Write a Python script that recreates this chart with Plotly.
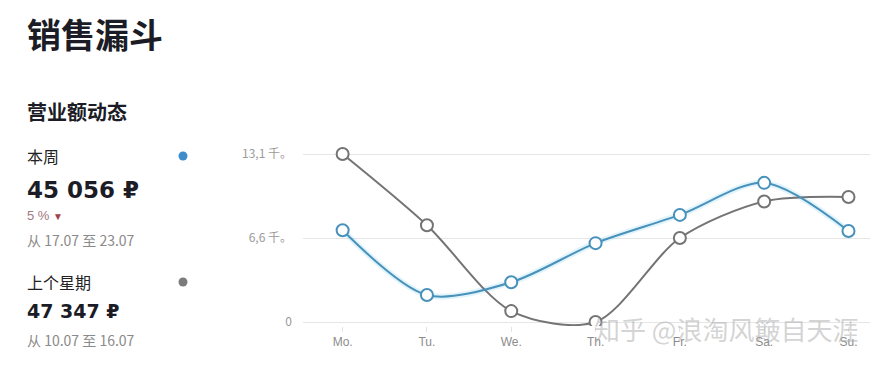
import plotly.graph_objects as go

# ---------------- data ----------------
days = ["Mo.", "Tu.", "We.", "Th.", "Fr.", "Sa.", "Su."]
this_week = [7150, 2100, 3100, 6150, 8350, 10850, 7100]
last_week = [13100, 7550, 850, 0, 6550, 9400, 9750]
y_tickvals = [0, 6550, 13100]
y_ticktext = ["0", "6,6 千。", "13,1 千。"]

title = "销售漏斗"
subtitle = "营业额动态"
this_label = "本周"
this_total = "45 056 ₽"
this_change = "5 %"
this_range = "从 17.07 至 23.07"
last_label = "上个星期"
last_total = "47 347 ₽"
last_range = "从 10.07 至 16.07"
watermark = "知乎 @浪淘风簸自天涯"

BLUE = "#4791bb"
GRAY = "#747474"
FONT = "Noto Sans CJK SC, Noto Sans, DejaVu Sans, sans-serif"
NUMFONT = "DejaVu Sans, Noto Sans, sans-serif"
LATIN = "Liberation Sans, Arial, Noto Sans CJK SC, sans-serif"

# ---------------- layout geometry (window pixel coords) ----------------
OFF = 8                     # browser body margin
WIN_W, WIN_H = 878, 366
PL, PR, PT, PB = 303, 878, 140, 326  # plot area in window pixels


def px(x):
    return (x - PL) / (PR - PL)


def py(y):
    return (PB - y) / (PB - PT)


fig = go.Figure()

# soft glow under the blue line
fig.add_trace(go.Scatter(
    x=days, y=this_week, mode="lines",
    line=dict(color="rgba(140,210,240,0.25)", width=6, shape="spline", smoothing=0.85),
    hoverinfo="skip", showlegend=False))

fig.add_trace(go.Scatter(
    x=days, y=last_week, mode="lines+markers", name=last_label,
    line=dict(color=GRAY, width=2, shape="spline", smoothing=0.85),
    marker=dict(size=12, color="white", line=dict(color=GRAY, width=2)),
    showlegend=False))

fig.add_trace(go.Scatter(
    x=days, y=this_week, mode="lines+markers", name=this_label,
    line=dict(color=BLUE, width=2, shape="spline", smoothing=0.85),
    marker=dict(size=12, color="white", line=dict(color=BLUE, width=2)),
    showlegend=False))

annotations = []


def txt(x, y, text, size, color="#222", bold=False, family=FONT):
    annotations.append(dict(
        xref="paper", yref="paper", x=px(x), y=py(y),
        text=("<b>%s</b>" % text) if bold else text,
        showarrow=False, xanchor="left", yanchor="middle",
        font=dict(family=family, size=size, color=color)))


txt(25, 33, title, 34, "#1b1c26", True)
txt(25, 112, subtitle, 20, "#1b1c26", True)
txt(25, 156, this_label, 16, "#222")
txt(25, 190, this_total, 23, "#1b1c26", True, NUMFONT)
txt(25, 215, this_change + ' <span style="color:#a3404f;font-size:10px">▼</span>', 13, "#a07884", False, LATIN)
txt(25, 240, this_range, 14, "#8a8a8a")
txt(25, 282, last_label, 16, "#222")
txt(25, 311, last_total, 19, "#1b1c26", True, NUMFONT)
txt(25, 340, last_range, 14, "#8a8a8a")

# watermark
annotations.append(dict(
    xref="paper", yref="paper", x=px(592), y=py(328), text=watermark,
    showarrow=False, xanchor="left", yanchor="middle",
    font=dict(family=FONT, size=26, color="rgba(175,175,175,0.55)")))

shapes = [
    dict(type="circle", xref="paper", yref="paper",
         x0=px(178.5), x1=px(187.5), y0=py(160.5), y1=py(151.5),
         fillcolor="#3e8ccb", line=dict(width=0)),
    dict(type="circle", xref="paper", yref="paper",
         x0=px(178.5), x1=px(187.5), y0=py(286.5), y1=py(277.5),
         fillcolor="#7b7b7b", line=dict(width=0)),
]

fig.update_layout(
    width=WIN_W - OFF, height=WIN_H - OFF,
    margin=dict(l=PL - OFF, r=WIN_W - PR, t=PT - OFF, b=WIN_H - PB, pad=0),
    paper_bgcolor="white", plot_bgcolor="white",
    annotations=annotations, shapes=shapes,
    font=dict(family=FONT),
    xaxis=dict(
        type="category", range=[-0.47, 6.35],
        showgrid=False, zeroline=False, showline=False,
        ticks="outside", ticklen=5, tickcolor="#e3e3e3",
        tickfont=dict(size=12, color="#8c8c8c", family=LATIN),
        ticklabelstandoff=0,
    ),
    yaxis=dict(
        range=[-312, 14192],
        tickvals=y_tickvals, ticktext=y_ticktext,
        showgrid=True, gridcolor="#e6e6e6", gridwidth=1,
        zeroline=False, showline=False,
        tickfont=dict(size=12, color="#9a9a9a"),
        ticklabelstandoff=10,
    ),
)

fig.write_html("out.html")
